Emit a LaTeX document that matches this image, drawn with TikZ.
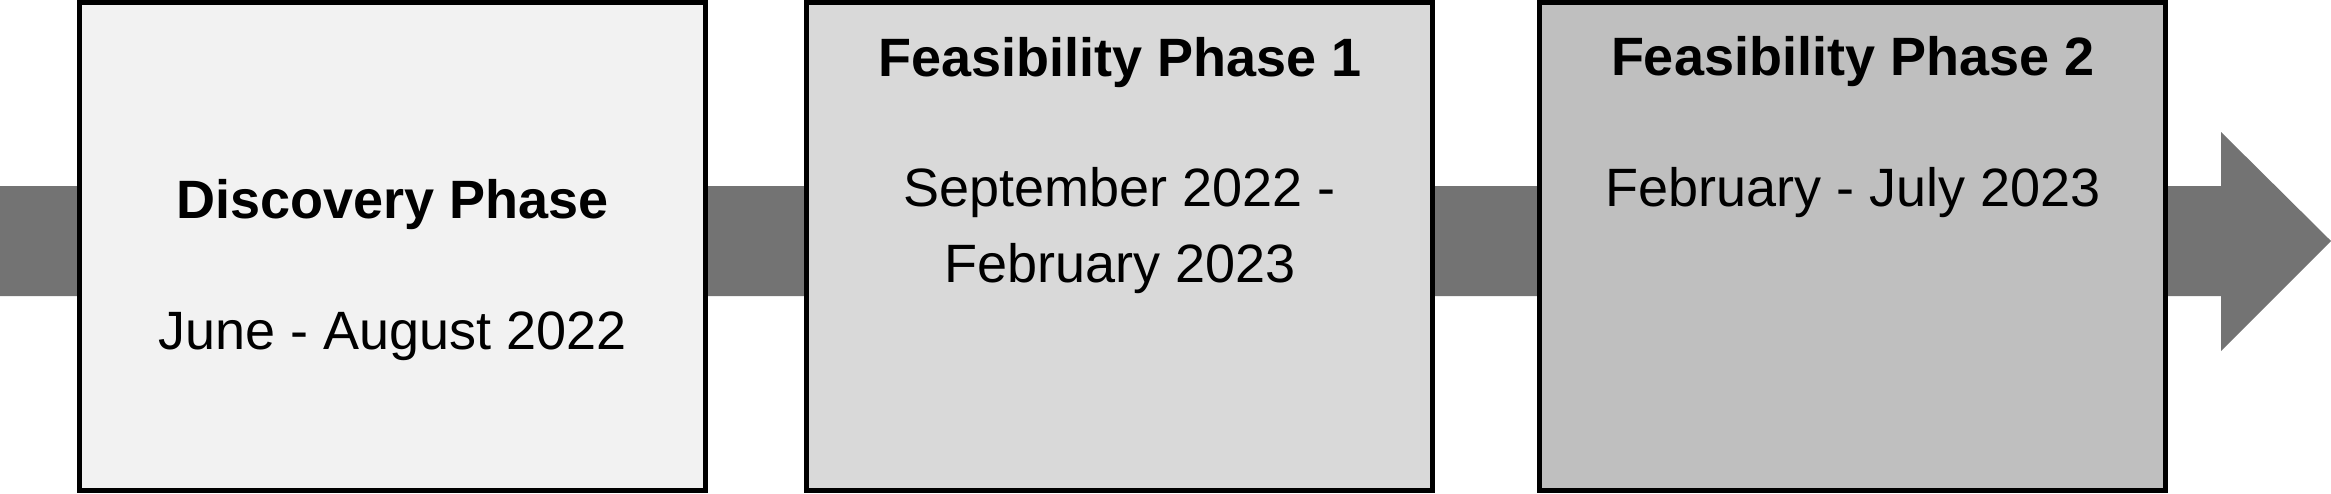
\documentclass[tikz,border=0pt]{standalone}
\usepackage{fontspec}
\setmainfont{Liberation Sans}
\definecolor{barcol}{RGB}{115,115,115}
\definecolor{fillA}{RGB}{242,242,242}
\definecolor{fillB}{RGB}{217,217,217}
\definecolor{fillC}{RGB}{191,191,191}
\tikzset{
  phasebox/.style={draw=black, line width=5pt, minimum width=626pt, minimum height=488pt, inner sep=0pt, outer sep=0pt},
  titletext/.style={anchor=base, inner sep=0pt, font=\fontsize{54}{60}\selectfont\bfseries},
  datetext/.style={anchor=base, inner sep=0pt, font=\fontsize{54}{60}\selectfont},
}
\begin{document}
\begin{tikzpicture}[x=1pt,y=-1pt]
\useasboundingbox (0,0) rectangle (2331,493);
% timeline arrow
\coordinate (bl) at (0,186);
\coordinate (br) at (0,296);
\coordinate (hb1) at (2221,186);
\coordinate (hb2) at (2221,132);
\coordinate (tip) at (2331,241);
\coordinate (hb3) at (2221,351);
\coordinate (hb4) at (2221,296);
\fill[barcol] (bl) -- (hb1) -- (hb2) -- (tip) -- (hb3) -- (hb4) -- (br) -- cycle;
% boxes
\node[phasebox, fill=fillA] (p1) at (392.3,246.5) {};
\node[phasebox, fill=fillB] (p2) at (1119.8,246.5) {};
\node[phasebox, fill=fillC] (p3) at (1852.6,246.5) {};
% texts
\node[titletext] (t1) at (392.3,218) {Discovery Phase};
\node[datetext] (d1) at (392.3,349) {June - August 2022};
\node[titletext] (t2) at (1119.8,76) {Feasibility Phase 1};
\node[datetext] (d2a) at (1119.8,206) {September 2022 -};
\node[datetext] (d2b) at (1119.8,282) {February 2023};
\node[titletext] (t3) at (1852.6,75) {Feasibility Phase 2};
\node[datetext] (d3) at (1852.6,206) {February - July 2023};
\end{tikzpicture}
\end{document}
